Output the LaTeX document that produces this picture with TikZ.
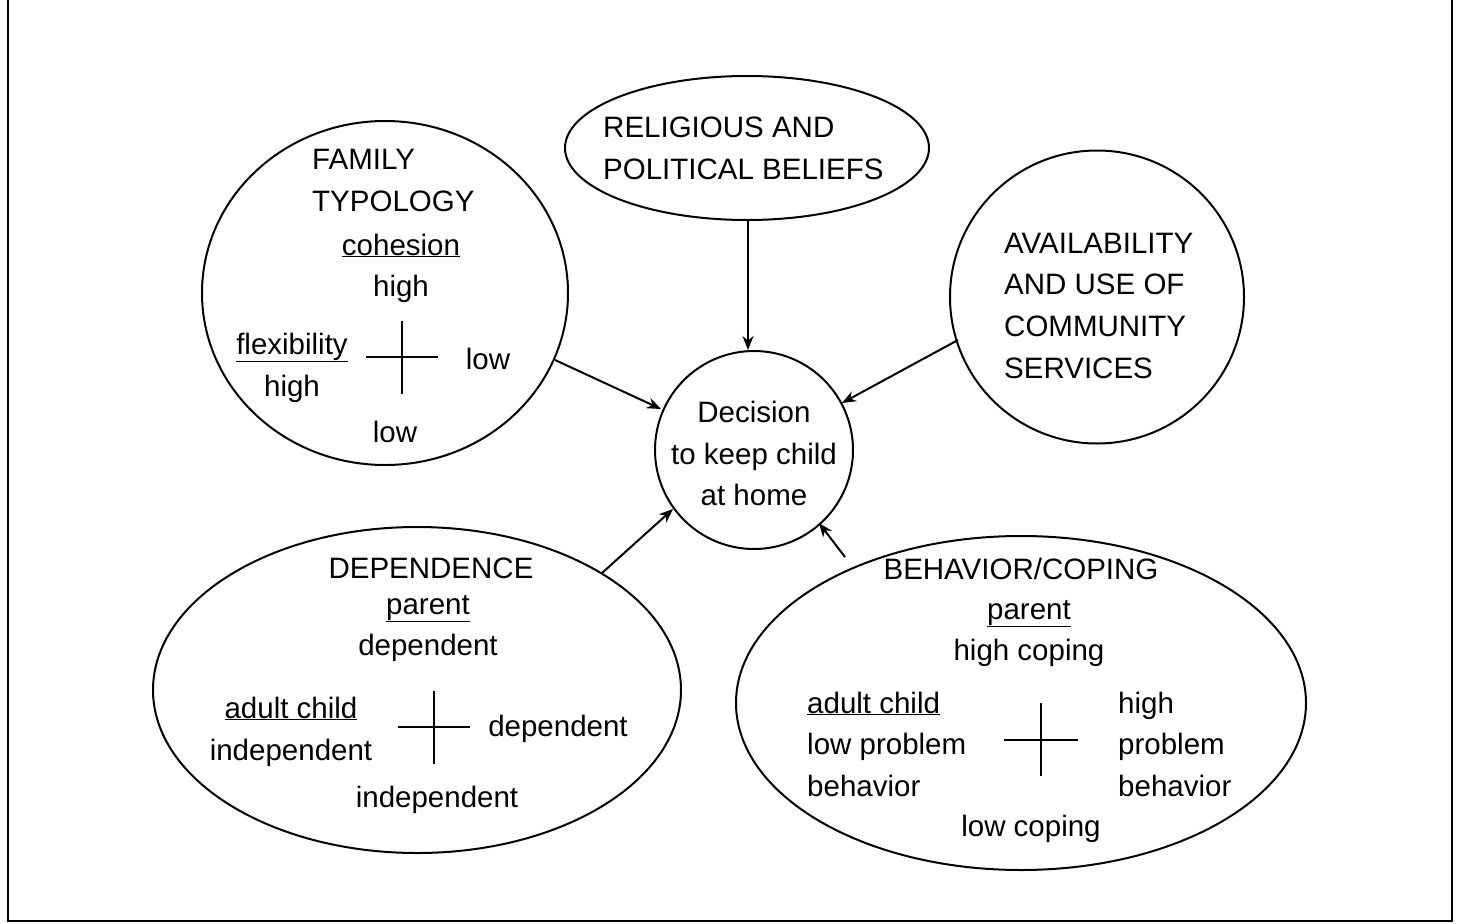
\documentclass[tikz,border=0pt]{standalone}
\usepackage{fontspec}
\setmainfont{Liberation Sans}
\usetikzlibrary{shapes.geometric,arrows.meta}
\begin{document}
\begin{tikzpicture}[x=1pt,y=-1pt,
  shp/.style={draw,line width=2pt},
  t/.style={font=\fontsize{29.5}{34}\selectfont,inner sep=0pt,anchor=base},
  tl/.style={t,anchor=base west},
  arr/.style={draw,line width=2pt,-{Stealth[length=14pt,width=11pt]}},
  crs/.style={line width=2pt}]
\useasboundingbox (0,0) rectangle (1460,924);
\draw[line width=2pt] (8,-5) -- (8,921) -- (1452,921) -- (1452,-5);
% shapes
\node[shp,ellipse,minimum width=366,minimum height=344,inner sep=0] (fam) at (385,293) {};
\node[shp,ellipse,minimum width=364,minimum height=144,inner sep=0] (rel) at (747,148) {};
\node[shp,ellipse,minimum width=294,minimum height=293,inner sep=0] (ava) at (1097,297) {};
\node[shp,circle,minimum size=198,inner sep=0] (dec) at (754,450) {};
\node[shp,ellipse,minimum width=528,minimum height=326,inner sep=0] (dep) at (417,690) {};
\node[shp,ellipse,minimum width=570,minimum height=334,inner sep=0] (beh) at (1021,703) {};
% arrows
\coordinate (rs) at (748,220); \coordinate (re) at (748,350);
\draw[arr] (rs) -- (re);
\coordinate (fs) at (555,360); \coordinate (fe) at (661,409);
\draw[arr] (fs) -- (fe);
\coordinate (as) at (958,340); \coordinate (ae) at (842,403);
\draw[arr] (as) -- (ae);
\coordinate (ds) at (602,573); \coordinate (de) at (673,509);
\draw[arr] (ds) -- (de);
\coordinate (bs) at (845,557); \coordinate (be) at (819,523);
\draw[arr] (bs) -- (be);
% family text
\node[tl] (f1) at (312,169) {FAMILY};
\node[tl] (f2) at (312,211) {TYPOLOGY};
\node[t] (f3) at (401,255) {\underline{cohesion}};
\node[t] (f4) at (401,296) {high};
\node[t] (f5) at (292,354) {\underline{flexibility}};
\node[t] (f6) at (292,396) {high};
\node[t] (f7) at (488,369) {low};
\node[t] (f8) at (395,442) {low};
\draw[crs] (366,357) -- (438,357) (402,321) -- (402,394);
% religious
\node[tl] (r1) at (603,137) {RELIGIOUS AND};
\node[tl] (r2) at (603,179) {POLITICAL BELIEFS};
% availability
\node[tl] (v1) at (1004,253) {AVAILABILITY};
\node[tl] (v2) at (1004,294) {AND USE OF};
\node[tl] (v3) at (1004,336) {COMMUNITY};
\node[tl] (v4) at (1004,378) {SERVICES};
% decision
\node[t] (d1) at (754,422) {Decision};
\node[t] (d2) at (754,464) {to keep child};
\node[t] (d3) at (754,505) {at home};
% dependence
\node[t] (p1) at (431,578) {DEPENDENCE};
\node[t] (p2) at (428,614) {\underline{parent}};
\node[t] (p3) at (428,655) {dependent};
\node[t] (p4) at (291,718) {\underline{adult child}};
\node[t] (p5) at (291,760) {independent};
\node[t] (p6) at (558,736) {dependent};
\node[t] (p7) at (437,807) {independent};
\draw[crs] (398,727) -- (470,727) (434,691) -- (434,764);
% behavior
\node[t] (c1) at (1021,579) {BEHAVIOR/COPING};
\node[t] (c2) at (1029,619) {\underline{parent}};
\node[t] (c3) at (1029,660) {high coping};
\node[tl] (c4) at (807,713) {\underline{adult child}};
\node[tl] (c5) at (807,754) {low problem};
\node[tl] (c6) at (807,796) {behavior};
\node[tl] (c7) at (1118,713) {high};
\node[tl] (c8) at (1118,754) {problem};
\node[tl] (c9) at (1118,796) {behavior};
\node[t] (c10) at (1031,836) {low coping};
\draw[crs] (1004,740) -- (1078,740) (1041,703) -- (1041,776);
\end{tikzpicture}
\end{document}
